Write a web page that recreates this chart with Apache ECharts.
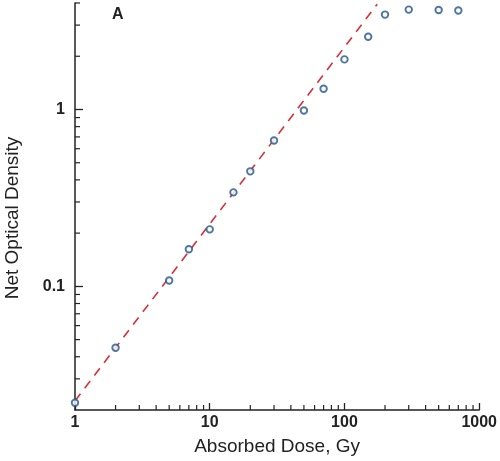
<!DOCTYPE html>
<html>
<head>
<meta charset="utf-8">
<script src="https://cdn.jsdelivr.net/npm/echarts@6/dist/echarts.min.js"></script>
<style>
  html, body { margin: 0; padding: 0; background: #fff; }
  #chart { width: 500px; height: 461px; }
</style>
</head>
<body>
<div id="chart"></div>
<script>
// measured points (dose in Gy, net OD)
const dose = [1, 2, 5, 7, 10, 15, 20, 30, 50, 70, 100, 150, 200, 300, 500, 700];
const netOD = [0.022, 0.045, 0.108, 0.162, 0.21, 0.34, 0.447, 0.668, 0.987, 1.31, 1.92, 2.58, 3.44, 3.67, 3.65, 3.63];

// dashed linear fit
const fitX = [1, 175];
const fitY = [0.0225, 3.94];

// axis ticks
const xMajor = [1, 10, 100, 1000];
const yMajor = [0.1, 1];
const xMinor = [2, 3, 4, 5, 6, 7, 8, 9, 20, 30, 40, 50, 60, 70, 80, 90, 200, 300, 400, 500, 600, 700, 800, 900];
const yMinor = [0.03, 0.04, 0.05, 0.06, 0.07, 0.08, 0.09, 0.2, 0.3, 0.4, 0.5, 0.6, 0.7, 0.8, 0.9, 2, 3, 4];

const X_MIN = 1, X_MAX = 1000, Y_MIN = 0.02, Y_MAX = 4;

const chart = echarts.init(document.getElementById('chart'), null, { renderer: 'canvas' });

const tickStyle = { color: '#222', width: 1.3 };
const labelStyle = {
  margin: 5,
  fontFamily: 'Liberation Sans',
  fontWeight: 'bold',
  fontSize: 16,
  color: '#222',
  formatter: v => String(v)
};

const option = {
  animation: false,
  backgroundColor: '#fff',
  grid: { left: 75, right: 20, top: 3, bottom: 48 },
  xAxis: {
    type: 'log',
    logBase: 10,
    min: X_MIN,
    max: X_MAX,
    name: 'Absorbed Dose, Gy',
    nameLocation: 'middle',
    nameGap: 27,
    nameTextStyle: { fontFamily: 'Liberation Sans', fontSize: 19, color: '#222' },
    axisLine: { lineStyle: { color: '#222', width: 1.5 } },
    axisTick: { inside: true, length: 7, lineStyle: tickStyle, customValues: xMajor },
    axisLabel: Object.assign({}, labelStyle, { customValues: xMajor }),
    splitLine: { show: false }
  },
  yAxis: {
    type: 'log',
    logBase: 10,
    min: Y_MIN,
    max: Y_MAX,
    axisLine: { lineStyle: { color: '#222', width: 1.5 } },
    axisTick: { inside: true, length: 8, lineStyle: tickStyle, customValues: yMajor },
    axisLabel: Object.assign({}, labelStyle, { customValues: yMajor, margin: 10 }),
    splitLine: { show: false }
  },
  graphic: [
    {
      type: 'text',
      left: 112,
      top: 7,
      style: { text: 'A', font: 'bold 16px "Liberation Sans"', fill: '#222' }
    },
    {
      type: 'text',
      x: 13,
      y: 218,
      rotation: Math.PI / 2,
      style: {
        text: 'Net Optical Density',
        font: '19px "Liberation Sans"',
        fill: '#222',
        align: 'center',
        verticalAlign: 'middle'
      }
    }
  ],
  series: [
    {
      name: 'fit',
      type: 'line',
      data: fitX.map((x, i) => [x, fitY[i]]),
      symbol: 'none',
      lineStyle: { color: '#d6303a', width: 1.6, type: [9, 7] },
      z: 2
    },
    {
      name: 'measured',
      type: 'scatter',
      data: dose.map((x, i) => [x, netOD[i]]),
      symbol: 'circle',
      symbolSize: 6.5,
      itemStyle: { color: '#fff', borderColor: '#23548a', borderWidth: 1.9 },
      z: 3
    },
    {
      name: 'xMinorTicks',
      type: 'custom',
      silent: true,
      data: xMinor.map(v => [v, Y_MIN]),
      renderItem: function (params, api) {
        const p = api.coord([api.value(0), Y_MIN]);
        return {
          type: 'line',
          shape: { x1: p[0], y1: p[1], x2: p[0], y2: p[1] - 5 },
          style: { stroke: '#222', lineWidth: 1.2 }
        };
      },
      clip: false
    },
    {
      name: 'yMinorTicks',
      type: 'custom',
      silent: true,
      data: yMinor.map(v => [X_MIN, v]),
      renderItem: function (params, api) {
        const p = api.coord([X_MIN, api.value(1)]);
        return {
          type: 'line',
          shape: { x1: p[0], y1: p[1], x2: p[0] + 5, y2: p[1] },
          style: { stroke: '#222', lineWidth: 1.2 }
        };
      },
      clip: false
    }
  ]
};

chart.setOption(option);
</script>
</body>
</html>
